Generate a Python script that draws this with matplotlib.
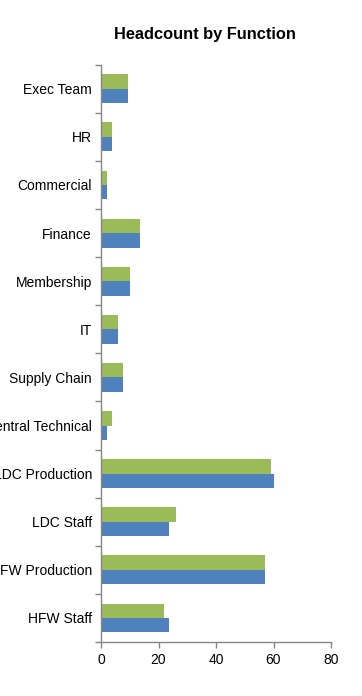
import matplotlib
matplotlib.use("Agg")
import matplotlib.pyplot as plt
import numpy as np

plt.rcParams['font.family'] = ['Liberation Sans', 'DejaVu Sans']

# categories listed bottom -> top
categories = ["HFW Staff", "HFW Production", "LDC Staff", "LDC Production",
              "Central Technical", "Supply Chain", "IT", "Membership",
              "Finance", "Commercial", "HR", "Exec Team"]
series_blue = [23.5, 57, 23.5, 60, 2, 7.5, 6, 10, 13.5, 2, 3.7, 9.3]
series_green = [22, 57, 26, 59, 3.7, 7.5, 6, 10, 13.5, 2, 3.7, 9.3]
xticks = [0, 20, 40, 60, 80]

blue = "#4F81BD"
green = "#9BBB59"
axis_col = "#868686"

fig = plt.figure(figsize=(3.62, 6.96), dpi=100)
ax = fig.add_axes([101 / 362, 1 - 642 / 696, 230 / 362, (642 - 64.7) / 696])

y = np.arange(len(categories))
h = 0.30
ax.barh(y - h / 2, series_blue, height=h, color=blue)
ax.barh(y + h / 2, series_green, height=h, color=green)

ax.set_xlim(0, 80)
ax.set_ylim(-0.5, len(categories) - 0.5)
ax.set_xticks(xticks)
ax.set_xticklabels([str(v) for v in xticks], fontsize=10)

ax.set_yticks(y)
ax.set_yticklabels(categories, fontsize=10)
ax.set_yticks(np.arange(-0.5, len(categories)), minor=True)
ax.tick_params(axis='y', which='major', length=0, pad=6.5)
ax.tick_params(axis='y', which='minor', length=4, color=axis_col, width=1)
ax.tick_params(axis='x', length=4, color=axis_col, width=1, pad=4)

for s in ['top', 'right']:
    ax.spines[s].set_visible(False)
for s in ['left', 'bottom']:
    ax.spines[s].set_color(axis_col)
    ax.spines[s].set_linewidth(1)

fig.text(204.5 / 362, 1 - 35 / 696, "Headcount by Function", fontsize=11.8,
         fontweight='bold', ha='center', va='center')

fig.savefig("out.png", dpi=100)
